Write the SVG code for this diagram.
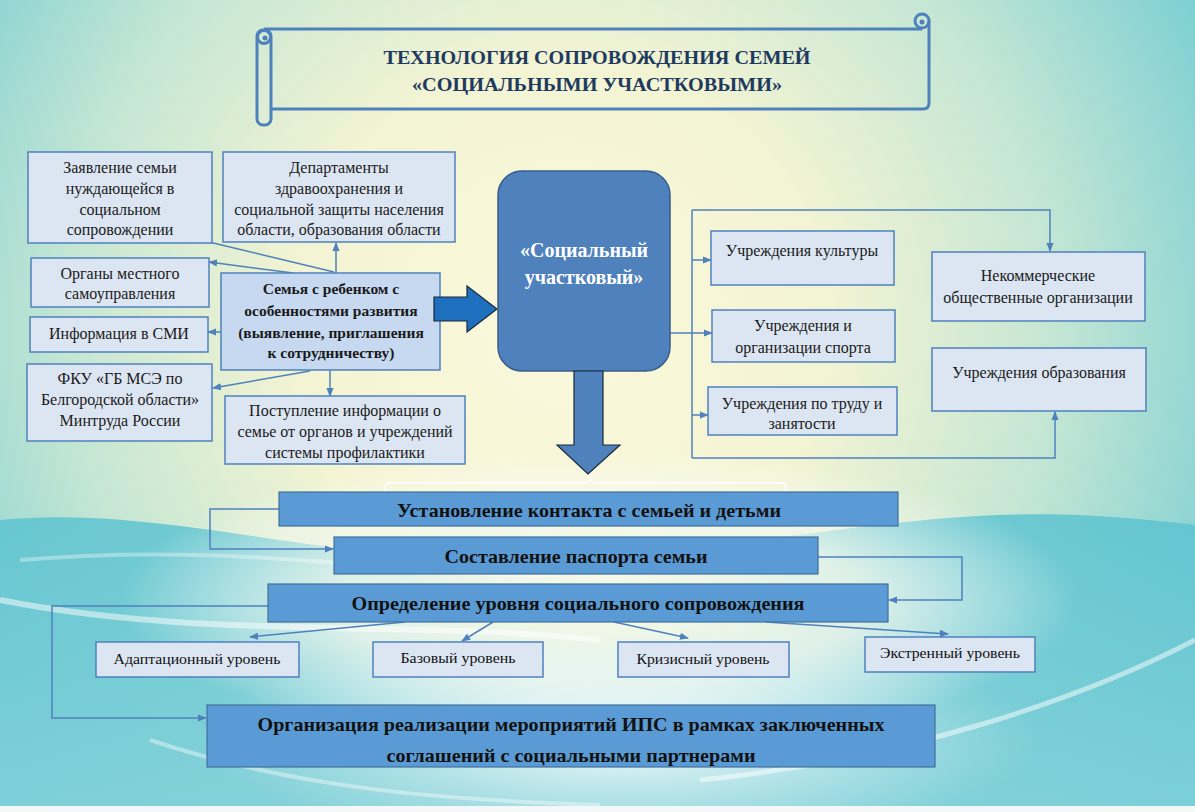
<svg xmlns="http://www.w3.org/2000/svg" width="1195" height="812" viewBox="0 0 1195 812">
<defs>
<radialGradient id="bg" cx="560" cy="330" r="760" gradientUnits="userSpaceOnUse">
<stop offset="0" stop-color="#fcf9dc"/>
<stop offset="0.35" stop-color="#f3f4d3"/>
<stop offset="0.65" stop-color="#c4e6d4"/>
<stop offset="1" stop-color="#6fcad2"/>
</radialGradient>
<linearGradient id="wave" x1="0" y1="0" x2="0" y2="1">
<stop offset="0" stop-color="#5cc3d0" stop-opacity="0.85"/>
<stop offset="1" stop-color="#7fd0da" stop-opacity="0.9"/>
</linearGradient>
<radialGradient id="glow">
<stop offset="0" stop-color="#fbfbe6" stop-opacity="1"/>
<stop offset="0.55" stop-color="#f0f7ec" stop-opacity="0.85"/>
<stop offset="1" stop-color="#ffffff" stop-opacity="0"/>
</radialGradient>
<radialGradient id="glow2">
<stop offset="0" stop-color="#ffffff" stop-opacity="0.9"/>
<stop offset="1" stop-color="#e8f6f8" stop-opacity="0"/>
</radialGradient>
<marker id="ah" viewBox="0 0 10 10" refX="9" refY="5" markerWidth="6" markerHeight="6" orient="auto">
<path d="M0,1 L10,5 L0,9 z" fill="#4f81bd"/>
</marker>
</defs>
<style>
.lb{fill:#dce6f2;stroke:#4f81bd;stroke-width:1.5}
.fam{fill:#c6d9f0;stroke:#4f81bd;stroke-width:1.5}
.bar{fill:#5b9bd5;stroke:#41719c;stroke-width:1.2}
.t{font-family:"Liberation Serif","Times New Roman",serif;font-size:16px;fill:#1a1a1a;text-anchor:middle}
.tb{font-family:"Liberation Serif","Times New Roman",serif;font-size:15.5px;font-weight:bold;fill:#1a1a1a;text-anchor:middle}
.bt{font-family:"Liberation Serif","Times New Roman",serif;font-size:19px;font-weight:bold;fill:#111;text-anchor:middle}
.lt{font-family:"Liberation Serif","Times New Roman",serif;font-size:15px;fill:#111;text-anchor:middle}
.ti{font-family:"Liberation Serif","Times New Roman",serif;font-size:19px;font-weight:bold;fill:#1f3a5f;text-anchor:middle}
.c{fill:none;stroke:#4f81bd;stroke-width:1.5}
.scroll{fill:none;stroke:#4f81bd;stroke-width:3}
</style>
<rect x="0" y="0" width="1195" height="812" fill="url(#bg)"/>
<path d="M0,520 C150,505 300,555 480,560 C650,565 850,520 1000,515 C1080,512 1150,520 1195,525 L1195,812 L0,812 Z" fill="url(#wave)"/>
<ellipse cx="600" cy="600" rx="480" ry="150" fill="url(#glow)"/>
<ellipse cx="620" cy="740" rx="420" ry="110" fill="url(#glow2)"/>
<path d="M0,600 C200,640 420,620 600,640" fill="none" stroke="#ffffff" stroke-opacity="0.5" stroke-width="6"/>
<path d="M20,560 C250,540 420,580 560,575" fill="none" stroke="#ffffff" stroke-opacity="0.35" stroke-width="4"/>
<path d="M700,780 C900,760 1080,700 1195,640" fill="none" stroke="#ffffff" stroke-opacity="0.5" stroke-width="5"/>
<path d="M150,740 C300,790 450,800 600,805" fill="none" stroke="#ffffff" stroke-opacity="0.4" stroke-width="4"/>
<rect x="0" y="806" width="1195" height="6" fill="#f4f8f8"/>

<g id="title">
<path class="scroll" d="M264,29 L922,29"/>
<circle class="scroll" cx="922" cy="21" r="7"/>
<circle cx="922" cy="22" r="2.5" fill="#4f81bd"/>
<path class="scroll" d="M929,21 L929,103 Q929,109 923,109 L271,109"/>
<rect class="scroll" x="257" y="30" width="14" height="95" rx="6"/>
<circle class="scroll" cx="264" cy="37" r="6.5"/>
<circle cx="265" cy="38" r="2.5" fill="#4f81bd"/>
<text class="ti" x="597" y="64" textLength="427" lengthAdjust="spacingAndGlyphs">ТЕХНОЛОГИЯ СОПРОВОЖДЕНИЯ СЕМЕЙ</text>
<text class="ti" x="597" y="91" textLength="370" lengthAdjust="spacingAndGlyphs">«СОЦИАЛЬНЫМИ УЧАСТКОВЫМИ»</text>
</g>

<g id="connectors">
<line class="c" x1="336" y1="273" x2="336" y2="243" marker-end="url(#ah)"/>
<line class="c" x1="334" y1="272" x2="188" y2="237" marker-end="url(#ah)"/>
<line class="c" x1="293" y1="273" x2="209" y2="262" marker-end="url(#ah)"/>
<line class="c" x1="221" y1="332" x2="208" y2="332" marker-end="url(#ah)"/>
<line class="c" x1="310" y1="371" x2="213" y2="388" marker-end="url(#ah)"/>
<line class="c" x1="330" y1="370" x2="330" y2="396" marker-end="url(#ah)"/>
<path class="c" d="M670,333 L692,333"/>
<path class="c" d="M692,210 L692,458"/>
<path class="c" d="M692,210 L1050,210 L1050,251" marker-end="url(#ah)"/>
<path class="c" d="M692,458 L1055,458 L1055,412" marker-end="url(#ah)"/>
<line class="c" x1="692" y1="260" x2="711" y2="260" marker-end="url(#ah)"/>
<line class="c" x1="692" y1="333" x2="712" y2="333" marker-end="url(#ah)"/>
<line class="c" x1="692" y1="415" x2="708" y2="415" marker-end="url(#ah)"/>
<path d="M385,492 L385,486 Q385,483 390,483 L585,483 Q590,483 590,476 Q590,483 595,483 L781,483 Q786,483 786,486 L786,492" fill="none" stroke="#ffffff" stroke-width="1.5"/>
<path class="c" d="M279,509 L210,509 L210,549 L333,549" marker-end="url(#ah)"/>
<path class="c" d="M818,557 L962,557 L962,600 L889,600" marker-end="url(#ah)"/>
<path class="c" d="M268,606 L52,606 L52,718 L206,718" marker-end="url(#ah)"/>
<line class="c" x1="405" y1="622" x2="250" y2="637" marker-end="url(#ah)"/>
<line class="c" x1="493" y1="622" x2="462" y2="641" marker-end="url(#ah)"/>
<line class="c" x1="614" y1="622" x2="688" y2="638" marker-end="url(#ah)"/>
<line class="c" x1="766" y1="622" x2="948" y2="634" marker-end="url(#ah)"/>
</g>

<g id="n-zayavlenie">
<rect class="lb" x="28" y="152" width="184" height="91"/>
<text class="t" x="120" y="173">Заявление семьи</text>
<text class="t" x="120" y="194">нуждающейся в</text>
<text class="t" x="120" y="215">социальном</text>
<text class="t" x="120" y="235">сопровождении</text>
</g>
<g id="n-departamenty">
<rect class="lb" x="223" y="152" width="232" height="90"/>
<text class="t" x="339" y="173">Департаменты</text>
<text class="t" x="339" y="194">здравоохранения и</text>
<text class="t" x="339" y="215">социальной защиты населения</text>
<text class="t" x="339" y="235">области, образования области</text>
</g>
<g id="n-organy">
<rect class="lb" x="31" y="258" width="178" height="49"/>
<text class="t" x="120" y="279">Органы местного</text>
<text class="t" x="120" y="299">самоуправления</text>
</g>
<g id="n-smi">
<rect class="lb" x="30" y="317" width="178" height="35"/>
<text class="t" x="119" y="339">Информация в СМИ</text>
</g>
<g id="n-fku">
<rect class="lb" x="27" y="364" width="185" height="77"/>
<text class="t" x="120" y="384">ФКУ «ГБ МСЭ по</text>
<text class="t" x="120" y="405">Белгородской области»</text>
<text class="t" x="120" y="426">Минтруда России</text>
</g>
<g id="n-postuplenie">
<rect class="lb" x="225" y="396" width="240" height="68"/>
<text class="t" x="345" y="416">Поступление информации о</text>
<text class="t" x="345" y="437">семье от органов и учреждений</text>
<text class="t" x="345" y="458">системы профилактики</text>
</g>
<g id="n-semya">
<rect class="fam" x="221" y="273" width="219" height="97"/>
<text class="tb" x="331" y="294">Семья с ребенком с</text>
<text class="tb" x="331" y="316">особенностями развития</text>
<text class="tb" x="331" y="338">(выявление, приглашения</text>
<text class="tb" x="331" y="358">к сотрудничеству)</text>
</g>
<g id="arrow-right">
<path d="M434,297 L467,297 L467,286 L497,309 L467,332 L467,321 L434,321 Z" fill="#1f6fbf" stroke="#1a2a3a" stroke-width="1.2"/>
</g>
<g id="n-uchastkovy">
<rect x="498" y="171" width="172" height="200" rx="24" fill="#4f81bd" stroke="#385d8a" stroke-width="1.5"/>
<text x="584" y="257" font-family="'Liberation Serif','Times New Roman',serif" font-size="20" font-weight="bold" fill="#ffffff" text-anchor="middle">«Социальный</text>
<text x="584" y="284" font-family="'Liberation Serif','Times New Roman',serif" font-size="20" font-weight="bold" fill="#ffffff" text-anchor="middle">участковый»</text>
</g>
<g id="arrow-down">
<path d="M574,371 L603,371 L603,445 L620,445 L588,474 L557,445 L574,445 Z" fill="#4f81bd" stroke="#1a2a3a" stroke-width="1.2"/>
</g>

<g id="n-kultura">
<rect class="lb" x="711" y="231" width="183" height="54"/>
<text class="t" x="802" y="256">Учреждения культуры</text>
</g>
<g id="n-sport">
<rect class="lb" x="712" y="310" width="183" height="52"/>
<text class="t" x="803" y="331">Учреждения и</text>
<text class="t" x="803" y="353">организации спорта</text>
</g>
<g id="n-trud">
<rect class="lb" x="708" y="387" width="189" height="48"/>
<text class="t" x="802" y="409">Учреждения по труду и</text>
<text class="t" x="802" y="429">занятости</text>
</g>
<g id="n-nko">
<rect class="lb" x="932" y="252" width="213" height="69"/>
<text class="t" x="1038" y="281">Некоммерческие</text>
<text class="t" x="1038" y="303">общественные организации</text>
</g>
<g id="n-obrazovanie">
<rect class="lb" x="932" y="348" width="214" height="63"/>
<text class="t" x="1039" y="378">Учреждения образования</text>
</g>

<g id="n-kontakt">
<rect class="bar" x="279" y="492" width="619" height="34"/>
<text class="bt" x="589" y="517" textLength="384" lengthAdjust="spacingAndGlyphs">Установление контакта с семьей и детьми</text>
</g>
<g id="n-pasport">
<rect class="bar" x="334" y="537" width="484" height="37"/>
<text class="bt" x="576" y="563" textLength="263" lengthAdjust="spacingAndGlyphs">Составление паспорта семьи</text>
</g>
<g id="n-uroven">
<rect class="bar" x="268" y="584" width="620" height="38"/>
<text class="bt" x="578" y="610" textLength="453" lengthAdjust="spacingAndGlyphs">Определение уровня социального сопровождения</text>
</g>
<g id="n-adapt">
<rect class="lb" x="96" y="642" width="203" height="35"/>
<text class="lt" x="197" y="664" textLength="167" lengthAdjust="spacingAndGlyphs">Адаптационный уровень</text>
</g>
<g id="n-baz">
<rect class="lb" x="373" y="642" width="170" height="35"/>
<text class="lt" x="458" y="663" textLength="115" lengthAdjust="spacingAndGlyphs">Базовый уровень</text>
</g>
<g id="n-kriz">
<rect class="lb" x="618" y="642" width="171" height="35"/>
<text class="lt" x="703" y="664" textLength="133" lengthAdjust="spacingAndGlyphs">Кризисный уровень</text>
</g>
<g id="n-ekstr">
<rect class="lb" x="865" y="637" width="170" height="35"/>
<text class="lt" x="950" y="658" textLength="140" lengthAdjust="spacingAndGlyphs">Экстренный уровень</text>
</g>
<g id="n-organizaciya">
<rect class="bar" x="207" y="705" width="728" height="62"/>
<text class="bt" x="571" y="731" textLength="627" lengthAdjust="spacingAndGlyphs">Организация реализации мероприятий ИПС в рамках заключенных</text>
<text class="bt" x="571" y="762" textLength="369" lengthAdjust="spacingAndGlyphs">соглашений с социальными партнерами</text>
</g>
</svg>
